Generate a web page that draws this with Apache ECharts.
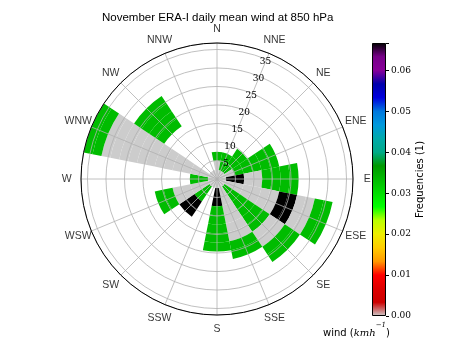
<!DOCTYPE html>
<html lang="en">
<head>
  <meta charset="UTF-8">
  <script src="https://cdn.jsdelivr.net/npm/echarts@6/dist/echarts.min.js"></script>
  <style>
    html, body { margin: 0; padding: 0; background: #fff; }
  </style>
</head>
<body>
  <div id="main" style="width: 474px;height:355px;"></div>
  <script type="text/javascript">

    // wind directions (compass sectors) and their angle in degrees
    const directions = ['N', 'NNE', 'NE', 'ENE', 'E', 'ESE', 'SE', 'SSE',
                        'S', 'SSW', 'SW', 'WSW', 'W', 'WNW', 'NW', 'NNW'];
    const dirAngles = [0, 22.5, 45, 67.5, 90, 112.5, 135, 157.5,
                       180, 202.5, 225, 247.5, 270, 292.5, 315, 337.5];

    // speed bin edges (km/h)
    const speedEdges = [0, 2.45, 4.9, 7.35, 9.8, 12.25, 14.7, 17.15, 19.6,
                        22.05, 24.5, 26.95, 29.4, 31.85, 34.3, 36.75];

    // frequency of each speed bin, per direction (null = no cell)
    const freqN   = [0, 0, 0.0333];
    const freqNNE = [0, 0.0333, 0.0333];
    const freqNE  = [0, 0.0333, 0.0333, 0.0333];
    const freqENE = [0, 0, 0.0333, 0.0333, 0.0333, 0.0333, 0.0333];
    const freqE   = [0, 0.0667, 0.0667, 0, 0, 0.0333, 0.0333, 0.0333, 0.0333];
    const freqESE = [0, 0, 0, 0, 0, 0, 0, 0.0667, 0.0667, 0, 0, 0.0333, 0.0333];
    const freqSE  = [0, 0.0333, 0.0333, 0.0333, 0.0333, 0.0333, 0.0333, 0, 0, 0.0333, 0.0333];
    const freqSSE = [0, 0, 0, 0, 0, 0, 0, 0.0333, 0.0333];
    const freqS   = [0, 0.0667, 0.0667, 0.0333, 0.0333, 0.0333, 0.0333, 0.0333];
    const freqSSW = [0];
    const freqSW  = [0, 0.0333, 0.0333, 0.0667, 0.0667];
    const freqWSW = [0, 0, 0, 0, 0, 0.0333, 0.0333];
    const freqW   = [0, 0.0333, 0.0333];
    const freqWNW = [0, 0, 0, 0, 0, 0, 0, 0, 0, 0, 0, 0, 0, 0.0333, 0.0333];
    const freqNW  = [0, null, null, null, null, null, null, 0.0333, 0.0333, 0.0333, 0.0333];
    const freqNNW = [0];

    const freqMax = 0.0667;
    const freqTicks = [0, 0.01, 0.02, 0.03, 0.04, 0.05, 0.06];

    const freqByDir = [freqN, freqNNE, freqNE, freqENE, freqE, freqESE, freqSE, freqSSE,
                       freqS, freqSSW, freqSW, freqWSW, freqW, freqWNW, freqNW, freqNNW];

    // nipy_spectral reversed
    const cmapStops = [
      [0.00, [204, 204, 204]], [0.05, [204, 0, 0]], [0.10, [221, 0, 0]],
      [0.15, [255, 0, 0]], [0.20, [255, 153, 0]], [0.25, [255, 204, 0]],
      [0.30, [238, 238, 0]], [0.35, [187, 255, 0]], [0.40, [0, 255, 0]],
      [0.45, [0, 221, 0]], [0.50, [0, 187, 0]], [0.55, [0, 153, 0]],
      [0.60, [0, 170, 136]], [0.65, [0, 170, 170]], [0.70, [0, 153, 221]],
      [0.75, [0, 119, 221]], [0.80, [0, 0, 221]], [0.85, [0, 0, 170]],
      [0.90, [136, 0, 153]], [0.95, [119, 0, 136]], [1.00, [0, 0, 0]]
    ];
    function rgb(c) { return 'rgb(' + c.map(Math.round).join(',') + ')'; }
    function cmap(t) {
      t = Math.max(0, Math.min(1, t));
      for (let i = 1; i < cmapStops.length; i++) {
        if (t <= cmapStops[i][0]) {
          const a = cmapStops[i - 1], b = cmapStops[i];
          const k = (t - a[0]) / (b[0] - a[0]);
          return rgb(a[1].map((v, j) => v + (b[1][j] - v) * k));
        }
      }
      return rgb(cmapStops[cmapStops.length - 1][1]);
    }

    const cells = [];
    freqByDir.forEach(function (arr, d) {
      arr.forEach(function (f, b) {
        if (f !== null) cells.push([b, d, f]);
      });
    });

    const halfSector = 11.25;
    const labelRadius = 40.6; // direction names sit just outside the rim

    function renderCell(params, api) {
      const b = api.value(0), d = api.value(1), f = api.value(2);
      const cs = params.coordSys;
      const a = dirAngles[d];
      const pIn = api.coord([speedEdges[b], a]);
      const pOut = api.coord([speedEdges[b + 1], a]);
      const pS = api.coord([speedEdges[b + 1], a - halfSector]);
      const pE = api.coord([speedEdges[b + 1], a + halfSector]);
      const r0 = Math.hypot(pIn[0] - cs.cx, pIn[1] - cs.cy);
      const r = Math.hypot(pOut[0] - cs.cx, pOut[1] - cs.cy);
      let s = Math.atan2(pS[1] - cs.cy, pS[0] - cs.cx);
      let e = Math.atan2(pE[1] - cs.cy, pE[0] - cs.cx);
      if (e < s) e += Math.PI * 2;
      return {
        type: 'sector',
        shape: { cx: cs.cx, cy: cs.cy, r0: r0, r: r, startAngle: s, endAngle: e, clockwise: true },
        style: { fill: cmap(f / freqMax), stroke: null }
      };
    }

    const gridColor = '#b0b0b0';
    const barStops = cmapStops.map(s => ({ offset: s[0], color: rgb(s[1]) }));

    var myChart = echarts.init(document.getElementById('main'));
    myChart.setOption({
      animation: false,
      title: {
        text: 'November ERA-I daily mean wind at 850 hPa',
        left: 102,
        top: 12,
        padding: 0,
        textStyle: { fontFamily: 'Liberation Sans', fontSize: 11.5, fontWeight: 'normal', color: '#000' }
      },
      polar: { center: [217, 179], radius: 136 },
      angleAxis: {
        type: 'value',
        min: 22.5,
        max: 382.5,
        interval: 22.5,
        startAngle: 67.5,
        clockwise: true,
        z: 5,
        axisLine: { lineStyle: { color: '#000', width: 1 } },
        axisTick: { show: false },
        axisLabel: { show: false },
        splitLine: { lineStyle: { color: gridColor, width: 0.8 } }
      },
      radiusAxis: {
        min: 0,
        max: 36.75,
        interval: 5,
        z: 5,
        axisLine: { show: false },
        axisTick: { show: false },
        axisLabel: {
          margin: -5,
          padding: [0, 0, 16, 0],
          fontFamily: 'DejaVu Serif',
          fontSize: 9,
          color: '#000',
          formatter: function (v) {
            if (v === 0 || Math.abs(v / 5 - Math.round(v / 5)) > 1e-6) return '';
            return String(v);
          }
        },
        splitLine: { lineStyle: { color: gridColor, width: 0.8 } }
      },
      grid: { left: 372, top: 43, width: 14, height: 273 },
      xAxis: { type: 'category', data: [''], show: false },
      yAxis: {
        type: 'value',
        position: 'right',
        min: 0,
        max: freqMax,
        interval: 0.01,
        name: 'Frequencies (1)',
        nameLocation: 'middle',
        nameRotate: 90,
        nameGap: 29,
        nameTextStyle: { fontFamily: 'DejaVu Sans', fontSize: 10, color: '#000' },
        axisLine: { show: false },
        axisTick: { show: true, length: 3, lineStyle: { color: '#000' } },
        splitLine: { show: false },
        axisLabel: {
          margin: 5,
          fontFamily: 'DejaVu Serif',
          fontSize: 9,
          color: '#000',
          formatter: function (v) {
            return freqTicks.some(t => Math.abs(t - v) < 1e-9) ? v.toFixed(2) : '';
          }
        }
      },
      graphic: [{
        type: 'text',
        left: 323,
        top: 322,
        style: {
          text: '{a|wind (}{i|kmh}{s|−1}{a|)}',
          rich: {
            a: { fontFamily: 'DejaVu Sans', fontSize: 10, color: '#000', verticalAlign: 'bottom', lineHeight: 16 },
            i: { fontFamily: 'DejaVu Serif', fontStyle: 'italic', fontSize: 10, color: '#000', verticalAlign: 'bottom', lineHeight: 16 },
            s: { fontFamily: 'DejaVu Serif', fontStyle: 'italic', fontSize: 7, color: '#000', verticalAlign: 'top', lineHeight: 11 }
          }
        }
      }],
      series: [
        {
          name: 'cells',
          type: 'custom',
          coordinateSystem: 'polar',
          z: 2,
          renderItem: renderCell,
          data: cells
        },
        {
          name: 'directions',
          type: 'scatter',
          coordinateSystem: 'polar',
          clip: false,
          symbolSize: 1,
          silent: true,
          itemStyle: { color: 'rgba(0,0,0,0)' },
          data: directions.map((name, i) => ({ name: name, value: [labelRadius, dirAngles[i]] })),
          label: {
            show: true,
            position: 'inside',
            formatter: '{b}',
            fontFamily: 'Liberation Sans',
            fontSize: 10.5,
            color: '#000'
          }
        },
        {
          name: 'colorbar',
          type: 'bar',
          xAxisIndex: 0,
          yAxisIndex: 0,
          barWidth: '100%',
          data: [freqMax],
          itemStyle: {
            color: new echarts.graphic.LinearGradient(0, 1, 0, 0, barStops),
            borderColor: '#000',
            borderWidth: 1
          }
        }
      ]
    });

  </script>
</body>
</html>
